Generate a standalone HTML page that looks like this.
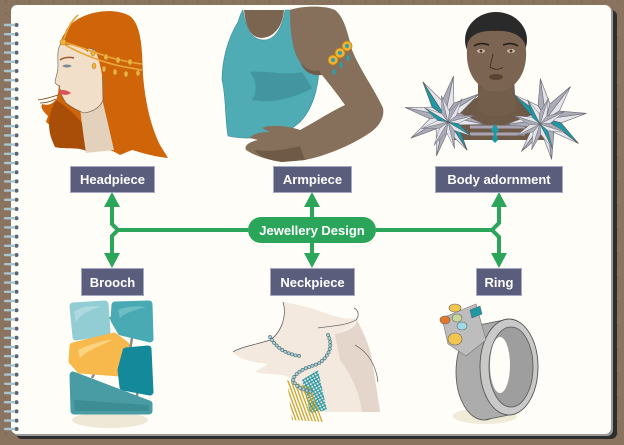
<!DOCTYPE html>
<html><head><meta charset="utf-8"><style>
html,body{margin:0;padding:0;background:#8a7460;}
svg{display:block;}
text{font-family:"Liberation Sans",Arial,sans-serif;font-weight:bold;}
</style></head><body>
<svg width="624" height="445" viewBox="0 0 624 445" xmlns="http://www.w3.org/2000/svg">
<defs>
<pattern id="dots" width="12" height="12" patternUnits="userSpaceOnUse"><rect x="5" y="1" width="1" height="1" fill="#6a5644"/></pattern>
<pattern id="gold" width="3" height="3" patternUnits="userSpaceOnUse" patternTransform="rotate(70)"><rect width="3" height="1.3" fill="#c9a227"/></pattern>
<pattern id="tealm" width="3" height="3" patternUnits="userSpaceOnUse" patternTransform="rotate(-30)"><rect width="3" height="1.2" fill="#2a9aa8"/><rect width="1.2" height="3" fill="#2a9aa8"/></pattern>
<g id="star">
<path fill="#e4e4ea" stroke="#6a6a72" stroke-width="0.5" d="M0,0L34,0L12,5Z M0,0L24,24L5,12Z M0,0L0,34L-5,12Z M0,0L-24,24L-12,5Z M0,0L-34,0L-12,-5Z M0,0L-24,-24L-5,-12Z M0,0L0,-34L5,-12Z M0,0L24,-24L12,-5Z"/>
<path fill="#acacb8" stroke="#6a6a72" stroke-width="0.5" d="M0,0L12,-5L34,0Z M0,0L-5,12L-24,24Z M0,0L-12,5L-34,0Z M0,0L5,-12L24,-24Z M0,0L5,12L0,34Z M0,0L-5,-12L0,-34Z"/>
<path fill="#1f98a6" stroke="#555" stroke-width="0.5" d="M0,0L12,5L24,24Z M0,0L-12,-5L-24,-24Z"/>
</g>
</defs>
<rect width="624" height="445" fill="#8a7460"/>
<rect width="624" height="445" fill="url(#dots)"/>
<!-- page -->
<rect x="16" y="10" width="601" height="429" rx="6" fill="#2e2e2e"/>
<rect x="13" y="7" width="600" height="429" rx="6" fill="#9a9a9a"/>
<rect x="11" y="5" width="600" height="429" rx="6" fill="#fefdf8"/>
<!-- spiral -->
<g fill="#58666f">
<circle cx="16.5" cy="25" r="2"/><circle cx="16.5" cy="34.2" r="2"/><circle cx="16.5" cy="43.4" r="2"/><circle cx="16.5" cy="52.6" r="2"/><circle cx="16.5" cy="61.8" r="2"/><circle cx="16.5" cy="71" r="2"/><circle cx="16.5" cy="80.2" r="2"/><circle cx="16.5" cy="89.4" r="2"/><circle cx="16.5" cy="98.6" r="2"/><circle cx="16.5" cy="107.8" r="2"/><circle cx="16.5" cy="117" r="2"/><circle cx="16.5" cy="126.2" r="2"/><circle cx="16.5" cy="135.4" r="2"/><circle cx="16.5" cy="144.6" r="2"/><circle cx="16.5" cy="153.8" r="2"/><circle cx="16.5" cy="163" r="2"/><circle cx="16.5" cy="172.2" r="2"/><circle cx="16.5" cy="181.4" r="2"/><circle cx="16.5" cy="190.6" r="2"/><circle cx="16.5" cy="199.8" r="2"/><circle cx="16.5" cy="209" r="2"/><circle cx="16.5" cy="218.2" r="2"/><circle cx="16.5" cy="227.4" r="2"/><circle cx="16.5" cy="236.6" r="2"/><circle cx="16.5" cy="245.8" r="2"/><circle cx="16.5" cy="255" r="2"/><circle cx="16.5" cy="264.2" r="2"/><circle cx="16.5" cy="273.4" r="2"/><circle cx="16.5" cy="282.6" r="2"/><circle cx="16.5" cy="291.8" r="2"/><circle cx="16.5" cy="301" r="2"/><circle cx="16.5" cy="310.2" r="2"/><circle cx="16.5" cy="319.4" r="2"/><circle cx="16.5" cy="328.6" r="2"/><circle cx="16.5" cy="337.8" r="2"/><circle cx="16.5" cy="347" r="2"/><circle cx="16.5" cy="356.2" r="2"/><circle cx="16.5" cy="365.4" r="2"/><circle cx="16.5" cy="374.6" r="2"/><circle cx="16.5" cy="383.8" r="2"/><circle cx="16.5" cy="393" r="2"/><circle cx="16.5" cy="402.2" r="2"/><circle cx="16.5" cy="411.4" r="2"/><circle cx="16.5" cy="420.6" r="2"/><circle cx="16.5" cy="429" r="2"/>
</g>
<path stroke="#a9c4cc" stroke-width="2.4" stroke-linecap="round" fill="none" d="M5,25H14M5,34.2H14M5,43.4H14M5,52.6H14M5,61.8H14M5,71H14M5,80.2H14M5,89.4H14M5,98.6H14M5,107.8H14M5,117H14M5,126.2H14M5,135.4H14M5,144.6H14M5,153.8H14M5,163H14M5,172.2H14M5,181.4H14M5,190.6H14M5,199.8H14M5,209H14M5,218.2H14M5,227.4H14M5,236.6H14M5,245.8H14M5,255H14M5,264.2H14M5,273.4H14M5,282.6H14M5,291.8H14M5,301H14M5,310.2H14M5,319.4H14M5,328.6H14M5,337.8H14M5,347H14M5,356.2H14M5,365.4H14M5,374.6H14M5,383.8H14M5,393H14M5,402.2H14M5,411.4H14M5,420.6H14M5,429H14"/>

<!-- ===== Headpiece woman ===== -->
<path fill="#cf6408" d="M66,30 C78,12 112,6 130,16 C142,26 142,50 143,75 C145,100 150,125 160,145 L168,158 C150,156 140,152 132,150 L120,155 C112,150 104,148 96,148 L88,152 C78,145 70,150 55,147 L52,140 C58,132 50,125 46,122 L48,116 C44,112 40,108 42,104 C48,106 52,104 56,100 C60,92 58,80 60,68 C61,55 62,42 66,30 Z"/>
<path fill="#a84e08" d="M56,100 C50,110 46,125 52,140 L55,147 C68,150 78,146 88,152 L86,130 C80,118 70,110 62,104Z"/>
<path fill="none" stroke="#7a3a06" stroke-width="0.8" d="M38,100 C45,99 52,97 58,95 M40,103 C46,103 52,101 56,99"/>
<path fill="#e4d1bc" d="M80,108 L102,98 L114,150 L86,153 C84,140 82,124 80,108 Z"/>
<path fill="#f1dfc9" stroke="#6a5a50" stroke-width="0.6" d="M60,45 C66,42 80,45 95,50 L102,60 L103,100 C100,108 92,112 84,113 C76,110 70,106 66,103 C64,100 63,98 62,96 C60,94 62,92 61,90 C59,89 59,88 60,86 C57,85 55,84 55,82 C56,76 58,72 58,66 C58,58 57,50 60,45 Z"/>
<path fill="#cf6408" d="M60,45 C62,30 80,14 110,11 C100,20 92,32 88,52 C80,46 70,44 60,45Z"/>
<path fill="#cf6408" d="M95,50 C100,60 104,80 104,100 L110,110 L112,60 Z"/>
<path fill="none" stroke="#9a5a30" stroke-width="1.5" d="M60,60 C64,57 70,57 74,58"/>
<path fill="#7a8a9a" d="M62,66 C65,64 69,64 72,66 C69,68 65,68 62,66Z"/>
<path fill="#d9505a" d="M59,91 C62,89 67,90 71,93 C67,96 62,95 59,93Z"/>
<g fill="none" stroke="#e8a73a" stroke-width="1.6">
<path d="M63,42 C66,32 70,22 78,15"/>
<path d="M63,42 C78,46 96,53 112,58 C124,61 134,63 142,64"/>
<path d="M65,45 C82,54 102,62 120,66 C130,68 136,69 142,70"/>
</g>
<g fill="#f0b23e" stroke="#b07a20" stroke-width="0.5">
<circle cx="63" cy="42" r="3"/>
<ellipse cx="93" cy="53" rx="2.2" ry="3"/><ellipse cx="106" cy="57" rx="2.2" ry="3"/><ellipse cx="118" cy="60" rx="2.2" ry="3"/><ellipse cx="130" cy="62" rx="2.2" ry="3"/>
<ellipse cx="94" cy="66" rx="2" ry="3"/><ellipse cx="104" cy="69" rx="2" ry="3"/><ellipse cx="115" cy="72" rx="2" ry="3"/><ellipse cx="126" cy="74" rx="2" ry="3"/><ellipse cx="138" cy="73" rx="2" ry="3"/>
</g>

<!-- ===== Armpiece ===== -->
<path fill="#7b6450" d="M244,10 L284,10 C283,25 275,37 262,38 C252,38 246,30 244,10Z"/>
<path fill="#4fabb4" stroke="#3d8d96" stroke-width="0.6" d="M243,10 C246,30 252,40 264,40 C276,40 283,25 285,10 L292,10 C290,30 292,50 300,62 C306,70 314,72 319,70 C318,90 312,110 300,122 L290,130 C270,138 245,140 228,136 C225,120 226,95 222,80 C222,60 228,38 238,22 C240,16 241,12 243,10Z"/>
<path fill="#43959f" d="M250,72 C265,70 285,76 302,72 L312,88 C295,98 272,104 252,100 C258,90 256,80 250,72Z"/>
<path fill="#86705b" d="M290,10 C300,6 325,5 335,10 C345,18 348,35 352,50 C360,70 375,90 383,108 C385,118 378,128 368,134 C350,146 325,156 305,160 L282,162 C268,160 255,156 246,150 C244,146 248,142 258,140 L250,138 C252,134 260,132 270,132 L262,128 C270,124 290,126 300,130 C315,122 330,112 345,105 C338,95 330,85 322,75 L319,70 C314,72 306,70 300,62 C292,50 290,30 290,10Z"/>
<path fill="#6f5a47" d="M300,62 C306,70 314,72 319,70 L322,75 C312,76 304,72 300,62Z M255,150 C270,152 285,150 300,146 L305,160 L282,162 C268,160 258,156 255,150Z"/>
<g fill="#f0b030" stroke="#b57a18" stroke-width="0.7">
<circle cx="333" cy="60" r="5"/><circle cx="340" cy="53" r="5"/><circle cx="347" cy="46" r="5"/>
</g>
<g fill="#2aa0b0">
<circle cx="333" cy="60" r="2"/><circle cx="340" cy="53" r="2"/><circle cx="347" cy="46" r="2"/>
<ellipse cx="334" cy="72" rx="1.6" ry="3"/><ellipse cx="341" cy="65" rx="1.6" ry="3"/><ellipse cx="348" cy="58" rx="1.6" ry="3"/>
</g>

<!-- ===== Body adornment ===== -->
<path fill="#6f5a47" d="M452,110 C468,102 480,98 485,90 L510,90 C514,98 526,102 542,110 L545,140 L452,140Z"/>
<path fill="#735e4b" d="M478,78 L514,78 L516,110 C505,118 488,118 478,110Z"/>
<ellipse cx="496" cy="40" rx="31" ry="28" fill="#2a2a2a"/>
<path fill="#7b6552" d="M467,50 C466,36 478,30 496,31 C514,30 526,38 526,50 C527,66 522,80 510,88 C502,93 490,93 483,88 C471,80 466,66 467,50Z"/>
<path fill="none" stroke="#2a2018" stroke-width="1.6" d="M474,46 C479,43 484,43 489,45 M503,45 C508,43 513,43 518,46"/>
<ellipse cx="481" cy="51" rx="4" ry="2" fill="#c8b8a8"/><circle cx="481" cy="51" r="1.4" fill="#5a3010"/>
<ellipse cx="511" cy="51" rx="4" ry="2" fill="#c8b8a8"/><circle cx="511" cy="51" r="1.4" fill="#5a3010"/>
<path fill="none" stroke="#3a2a20" stroke-width="0.8" d="M493,54 L490,67 C494,70 500,70 503,67"/>
<ellipse cx="496" cy="77" rx="7" ry="3" fill="#5a4234"/>
<path stroke="#a9a4b4" stroke-width="3" d="M470,127 H525 M470,134 H525"/>
<path fill="#1f98a6" d="M495,124 L499,130 L496,134 L498,140 L495,143 L492,140 L494,134 L491,130Z"/>
<use href="#star" transform="translate(445,116) scale(1.2) rotate(12)"/>
<use href="#star" transform="translate(448,122) scale(0.8) rotate(-14)"/>
<use href="#star" transform="translate(546,119) scale(1.2) rotate(-8)"/>
<use href="#star" transform="translate(540,124) scale(0.8) rotate(18)"/>

<!-- ===== Brooch ===== -->
<ellipse cx="110" cy="420" rx="38" ry="8" fill="#efe8d6"/>
<g stroke="#8a8a8a" stroke-width="2.5">
<path d="M104,318 H118 M90,338 L88,348 M132,338 L130,350 M96,370 L92,378 M138,390 L136,400 M118,340 L120,348"/>
</g>
<g stroke-linejoin="round">
<path fill="#93cdd4" stroke="#93cdd4" stroke-width="7" d="M73,306 L105,304 L107,332 L76,337Z"/>
<path fill="#4aaab4" stroke="#4aaab4" stroke-width="7" d="M115,305 L149,304 L150,339 L121,332 L114,320Z"/>
<path fill="#f8b94c" stroke="#f8b94c" stroke-width="7" d="M73,346 L114,336 L126,345 L120,373 L80,370 L72,361Z"/>
<path fill="#13899a" stroke="#13899a" stroke-width="7" d="M126,351 L148,349 L150,392 L123,387 L121,370Z"/>
<path fill="#4a9ca4" stroke="#4a9ca4" stroke-width="7" d="M73,375 L149,404 L149,411 L74,411Z"/>
</g>
<path fill="#b9e0e4" opacity="0.7" d="M74,312 C80,306 95,305 100,307 C90,310 80,314 76,322Z"/>
<path fill="#fcd98e" opacity="0.8" d="M78,350 C90,344 105,340 112,340 C100,346 88,350 80,358Z"/>
<path fill="#7cc4cc" opacity="0.7" d="M118,310 C125,306 140,306 146,307 C135,310 124,313 120,318Z"/>
<path fill="#3d8d95" d="M74,400 L149,405 L149,411 L75,411Z"/>

<!-- ===== Neckpiece ===== -->
<path fill="#f4e9df" d="M283,302 C287,315 282,332 270,340 C255,345 240,347 233,352 C240,360 252,362 268,364 L255,372 C272,376 285,372 292,380 L320,412 L380,412 C378,392 372,372 356,356 C348,350 338,344 335,334 C345,330 355,328 356,318 C345,320 333,316 322,312 C312,308 300,305 283,302 Z"/>
<path fill="#e4d6ca" d="M335,334 C350,330 358,326 356,318 C362,330 370,345 372,360 C375,380 378,396 380,412 L362,412 C360,395 352,375 340,360 Z"/>
<path fill="none" stroke="#555" stroke-width="0.7" d="M283,302 C287,315 282,332 270,340 C255,345 240,347 233,352 M318,328 C330,326 345,326 356,320 C360,315 358,310 354,308 M355,345 C368,352 376,365 378,382"/>
<path fill="url(#tealm)" d="M302,380 L318,370 L327,410 L310,413Z"/>
<path fill="url(#gold)" d="M287,380 L312,388 L324,422 L292,420Z"/>
<path fill="none" stroke="#4a6a74" stroke-width="3.8" stroke-linecap="round" stroke-dasharray="0 3.6" d="M270,337 C276,348 288,355 300,356 M328,335 C333,345 330,356 318,364 C305,368 295,372 293,380 C296,388 305,390 312,392"/>
<path fill="none" stroke="#a9d2d6" stroke-width="2.6" stroke-linecap="round" stroke-dasharray="0 3.6" d="M270,337 C276,348 288,355 300,356 M328,335 C333,345 330,356 318,364 C305,368 295,372 293,380 C296,388 305,390 312,392"/>

<!-- ===== Ring ===== -->
<ellipse cx="485" cy="416" rx="32" ry="8" fill="#f0ead8"/>
<ellipse cx="484" cy="372" rx="28" ry="48" fill="#acacac" stroke="#555" stroke-width="0.8"/>
<path fill="#acacac" d="M484,324 L509,319 L509,415 L484,420Z"/>
<path fill="none" stroke="#555" stroke-width="0.8" d="M484,324 L509,319 M484,420 L509,415"/>
<ellipse cx="509" cy="367" rx="29" ry="48" fill="#c9c9c9" stroke="#555" stroke-width="0.9"/>
<ellipse cx="511" cy="367" rx="22" ry="40" fill="#9e9e9e" stroke="#555" stroke-width="0.8"/>
<ellipse cx="500" cy="365" rx="10" ry="28" fill="#fefdf8"/>
<g stroke="#777" stroke-width="0.6">
<path fill="#bdbdbd" d="M442,318 L476,304 L486,340 L466,356 L448,344Z"/>
</g>
<g stroke="#666" stroke-width="0.6">
<ellipse cx="445" cy="320" rx="5" ry="4" fill="#e4782a"/>
<ellipse cx="455" cy="308" rx="6" ry="4" fill="#f2c54e"/>
<ellipse cx="457" cy="318" rx="5" ry="4" fill="#c8d89a"/>
<ellipse cx="462" cy="326" rx="5" ry="4" fill="#9edbe6"/>
<path d="M470,310 L480,306 L482,314 L472,318Z" fill="#1f98a6"/>
<ellipse cx="455" cy="339" rx="7" ry="6" fill="#f2c54e"/>
</g>

<!-- ===== Connectors ===== -->
<g fill="none" stroke="#2ba55a" stroke-width="4">
<path d="M248,230 H118 L112,224 V205 M118,230 L112,236 V255"/>
<path d="M376,230 H492 L499,223 V205 M492,230 L499,237 V255"/>
<path d="M312,217 V205 M312,243 V255"/>
</g>
<g fill="#2ba55a">
<path d="M112,192 L104,207 L120,207Z M112,268 L104,253 L120,253Z"/>
<path d="M312,192 L304,207 L320,207Z M312,268 L304,253 L320,253Z"/>
<path d="M499,192 L491,207 L507,207Z M499,268 L491,253 L507,253Z"/>
</g>
<rect x="248" y="217" width="128" height="26" rx="13" fill="#2ba55a"/>
<text x="312" y="235" fill="#fff" font-size="13" text-anchor="middle">Jewellery Design</text>

<!-- ===== Labels ===== -->
<g fill="#5b5d7d" stroke="#a8a9c0" stroke-width="1">
<rect x="70.5" y="166.5" width="84" height="26"/>
<rect x="273.5" y="166.5" width="78" height="26"/>
<rect x="435.5" y="166.5" width="127" height="26"/>
<rect x="81.5" y="268.5" width="62" height="27"/>
<rect x="270.5" y="268.5" width="84" height="27"/>
<rect x="476.5" y="268.5" width="45" height="27"/>
</g>
<g fill="#fff" font-size="13" text-anchor="middle">
<text x="112.5" y="184">Headpiece</text>
<text x="312.5" y="184">Armpiece</text>
<text x="499" y="184">Body adornment</text>
<text x="112.5" y="287">Brooch</text>
<text x="312.5" y="287">Neckpiece</text>
<text x="499" y="287">Ring</text>
</g>
</svg>
</body></html>
